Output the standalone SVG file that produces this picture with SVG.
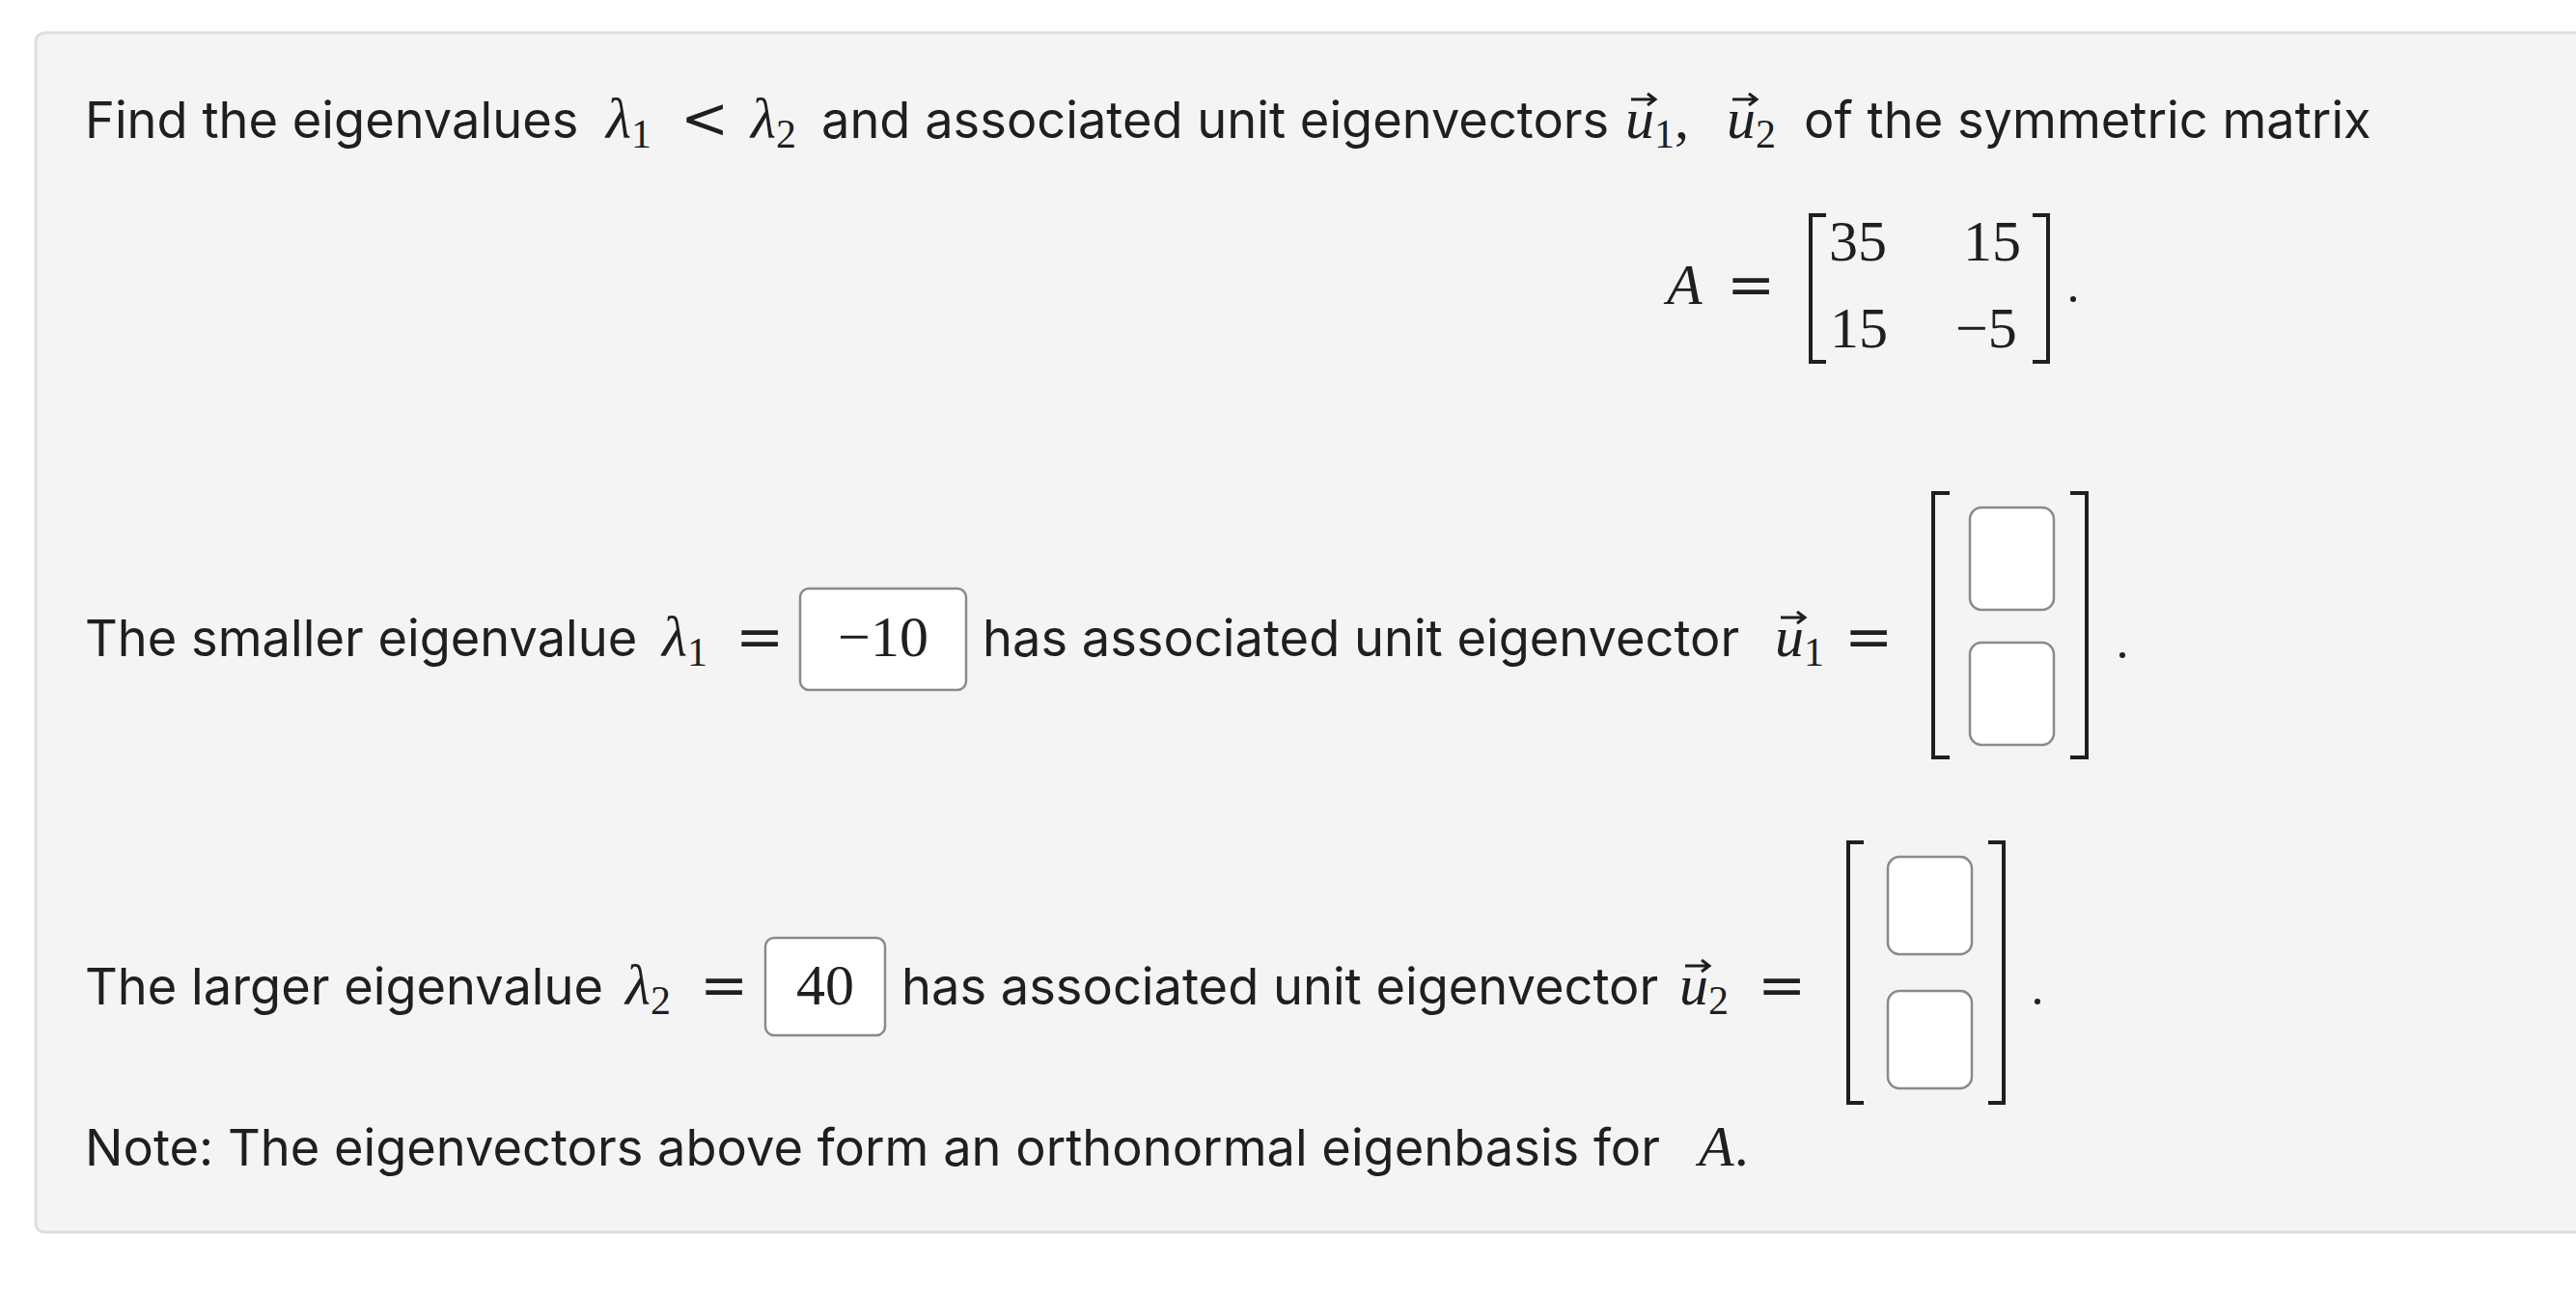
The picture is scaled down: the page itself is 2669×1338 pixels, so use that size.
<svg xmlns="http://www.w3.org/2000/svg" width="2669" height="1338" viewBox="0 0 2669 1338">
<style>
.t{font-family:Inter,"Liberation Sans",sans-serif;font-size:52.4px;fill:#1e1f21}
.m{font-family:"Liberation Serif","DejaVu Serif",serif;font-size:60px;fill:#1e1f21}
.o{font-family:"DejaVu Serif",serif;font-size:60px;fill:#1e1f21}
.i{font-style:italic}
.s{font-size:42px}
.box{fill:#fff;stroke:#8a8a8a;stroke-width:2.5}
.br{fill:none;stroke:#1e1f21;stroke-width:4}
.ar{fill:none;stroke:#1e1f21;stroke-width:3}
</style>
<rect x="37" y="34" width="2700" height="1243" rx="9" fill="#f4f4f4" stroke="#dedede" stroke-width="3"/>
<g id="line1">
<text class="t" x="88" y="143">Find the eigenvalues</text>
<text class="m i" x="628" y="143">λ<tspan class="s" font-style="normal" dy="10">1</tspan></text>
<text class="o" x="705" y="143">&lt;</text>
<text class="m i" x="778" y="143">λ<tspan class="s" font-style="normal" dy="10">2</tspan></text>
<text class="t" x="851" y="143">and associated unit eigenvectors</text>
<text class="m i" x="1684" y="143">u<tspan class="s" font-style="normal" dy="10">1</tspan><tspan font-style="normal" dy="-10">,</tspan></text>
<path class="ar" d="M1690 103 H1714 M1707 97 L1715 103 L1707 109"/>
<text class="m i" x="1789" y="143">u<tspan class="s" font-style="normal" dy="10">2</tspan></text>
<path class="ar" d="M1795 103 H1819 M1812 97 L1820 103 L1812 109"/>
<text class="t" x="1869" y="143">of the symmetric matrix</text>
</g>
<g id="matrix">
<text class="m i" x="1727" y="315">A</text>
<text class="o" x="1789" y="315">=</text>
<path class="br" d="M1892 223 H1876 V375 H1892"/>
<text class="m" x="1895" y="270">35</text>
<text class="m" x="2034" y="270">15</text>
<text class="m" x="1896" y="360">15</text>
<text class="m" x="2026" y="360">−5</text>
<path class="br" d="M2106 223 H2122 V375 H2106"/>
<circle cx="2148" cy="310" r="3" fill="#1e1f21"/>
</g>
<g id="line2">
<text class="t" x="88" y="680">The smaller eigenvalue</text>
<text class="m i" x="686" y="680">λ<tspan class="s" font-style="normal" dy="10">1</tspan></text>
<text class="o" x="762" y="680">=</text>
<rect class="box" x="829" y="610" width="172" height="105" rx="9"/>
<text class="m" x="915" y="680" text-anchor="middle">−10</text>
<text class="t" x="1018" y="680">has associated unit eigenvector</text>
<text class="m i" x="1839" y="680">u<tspan class="s" font-style="normal" dy="10">1</tspan></text>
<path class="ar" d="M1845 640 H1869 M1862 634 L1870 640 L1862 646"/>
<text class="o" x="1911" y="680">=</text>
<path class="br" d="M2020 511 H2003 V785 H2020"/>
<rect class="box" x="2041" y="526" width="87" height="106" rx="12"/>
<rect class="box" x="2041" y="666" width="87" height="106" rx="12"/>
<path class="br" d="M2145 511 H2162 V785 H2145"/>
<circle cx="2199" cy="679" r="3" fill="#1e1f21"/>
</g>
<g id="line3">
<text class="t" x="88" y="1041">The larger eigenvalue</text>
<text class="m i" x="648" y="1041">λ<tspan class="s" font-style="normal" dy="10">2</tspan></text>
<text class="o" x="725" y="1041">=</text>
<rect class="box" x="793" y="972" width="124" height="101" rx="9"/>
<text class="m" x="855" y="1041" text-anchor="middle">40</text>
<text class="t" x="934" y="1041">has associated unit eigenvector</text>
<text class="m i" x="1740" y="1041">u<tspan class="s" font-style="normal" dy="10">2</tspan></text>
<path class="ar" d="M1746 1001 H1770 M1763 995 L1771 1001 L1763 1007"/>
<text class="o" x="1821" y="1041">=</text>
<path class="br" d="M1931 873 H1915 V1143 H1931"/>
<rect class="box" x="1956" y="888" width="87" height="101" rx="12"/>
<rect class="box" x="1956" y="1027" width="87" height="101" rx="12"/>
<path class="br" d="M2060 873 H2076 V1143 H2060"/>
<circle cx="2111" cy="1038" r="3" fill="#1e1f21"/>
</g>
<g id="note">
<text class="t" x="88" y="1208">Note: The eigenvectors above form an orthonormal eigenbasis for</text>
<text class="m i" x="1760" y="1208">A<tspan font-style="normal">.</tspan></text>
</g>
</svg>
